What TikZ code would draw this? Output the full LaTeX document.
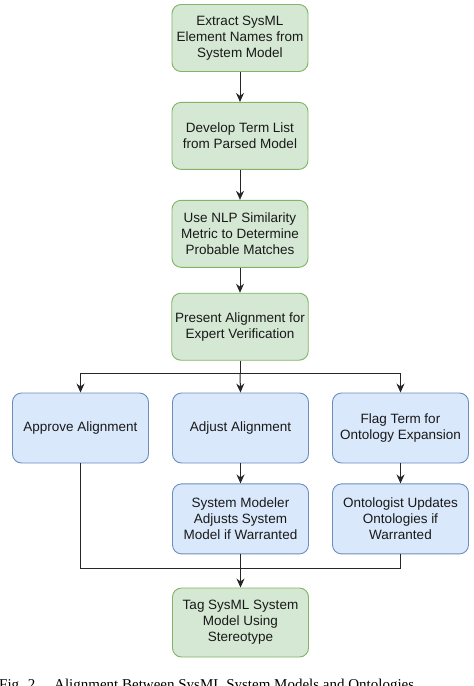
\documentclass[tikz,border=0pt]{standalone}
\usepackage{fontspec}
\setmainfont{Liberation Sans}
\newfontfamily\capfont{Liberation Serif}
\usetikzlibrary{arrows.meta,positioning,calc}
\definecolor{stepgreen}{HTML}{D5E8D4}
\definecolor{stepgreenline}{HTML}{82B366}
\definecolor{choiceblue}{HTML}{DAE8FC}
\definecolor{choiceblueline}{HTML}{6C8EBF}
\tikzset{
  block/.style={rounded corners=9pt, minimum width=136pt, minimum height=67pt,
    align=center, line width=0.9pt, text=black!90, font=\fontsize{13.5}{16}\selectfont},
  greenblock/.style={block, draw=stepgreenline, fill=stepgreen},
  blueblock/.style={block, draw=choiceblueline, fill=choiceblue, minimum height=70pt},
  arrow/.style={-{Stealth[length=9pt,width=8pt]}, line width=1pt, draw=black!85},
  link/.style={line width=1pt, draw=black!85},
  caption/.style={anchor=base west, inner sep=0pt, font=\capfont\fontsize{15}{18}\selectfont}
}

\begin{document}
\begin{tikzpicture}[x=1pt,y=-1pt]
  \useasboundingbox (0,0) rectangle (474,686);
  \node[greenblock] (extract) at (240,38) {Extract SysML\\Element Names from\\System Model};
  \node[greenblock, below=30pt of extract] (termlist) {Develop Term List\\from Parsed Model};
  \node[greenblock, below=30pt of termlist] (nlp) {Use NLP Similarity\\Metric to Determine\\Probable Matches};
  \node[greenblock, below=25pt of nlp] (present) {Present Alignment for\\Expert Verification};
  \draw[arrow] (extract)--(termlist); \draw[arrow] (termlist)--(nlp); \draw[arrow] (nlp)--(present);

  \node[blueblock] (approve) at (80.5,428) {Approve Alignment};
  \node[blueblock] (adjust) at (240.5,428) {Adjust Alignment};
  \node[blueblock] (flag) at (400.5,428) {Flag Term for\\Ontology Expansion};
  \node[blueblock, below=20pt of adjust] (modeler) {System Modeler\\Adjusts System\\Model if Warranted};
  \node[blueblock, below=20pt of flag] (ontologist) {Ontologist Updates\\Ontologies if\\Warranted};
  \node[greenblock, minimum height=69pt] (tag) at (240.5,622.5) {Tag SysML System\\Model Using\\Stereotype};

  % split after verification
  \coordinate (split) at ($(present.south)+(0,13)$);
  \draw[link] (present.south) -- (split);
  \draw[arrow] (split) -| (approve.north);
  \draw[arrow] (split) -| (flag.north);
  \draw[arrow] (split) -- (adjust.north);
  \draw[arrow] (adjust) -- (modeler); \draw[arrow] (flag) -- (ontologist);

  % join before tagging
  \coordinate (join) at ($(modeler.south)+(0,14)$);
  \draw[link] (approve.south) |- (join);
  \draw[link] (ontologist.south) |- (join);
  \draw[arrow] (modeler.south) -- (tag.north);

  \node[caption] (figcap) at (-1,689) {Fig. 2.\quad Alignment Between SysML System Models and Ontologies};
\end{tikzpicture}
\end{document}
